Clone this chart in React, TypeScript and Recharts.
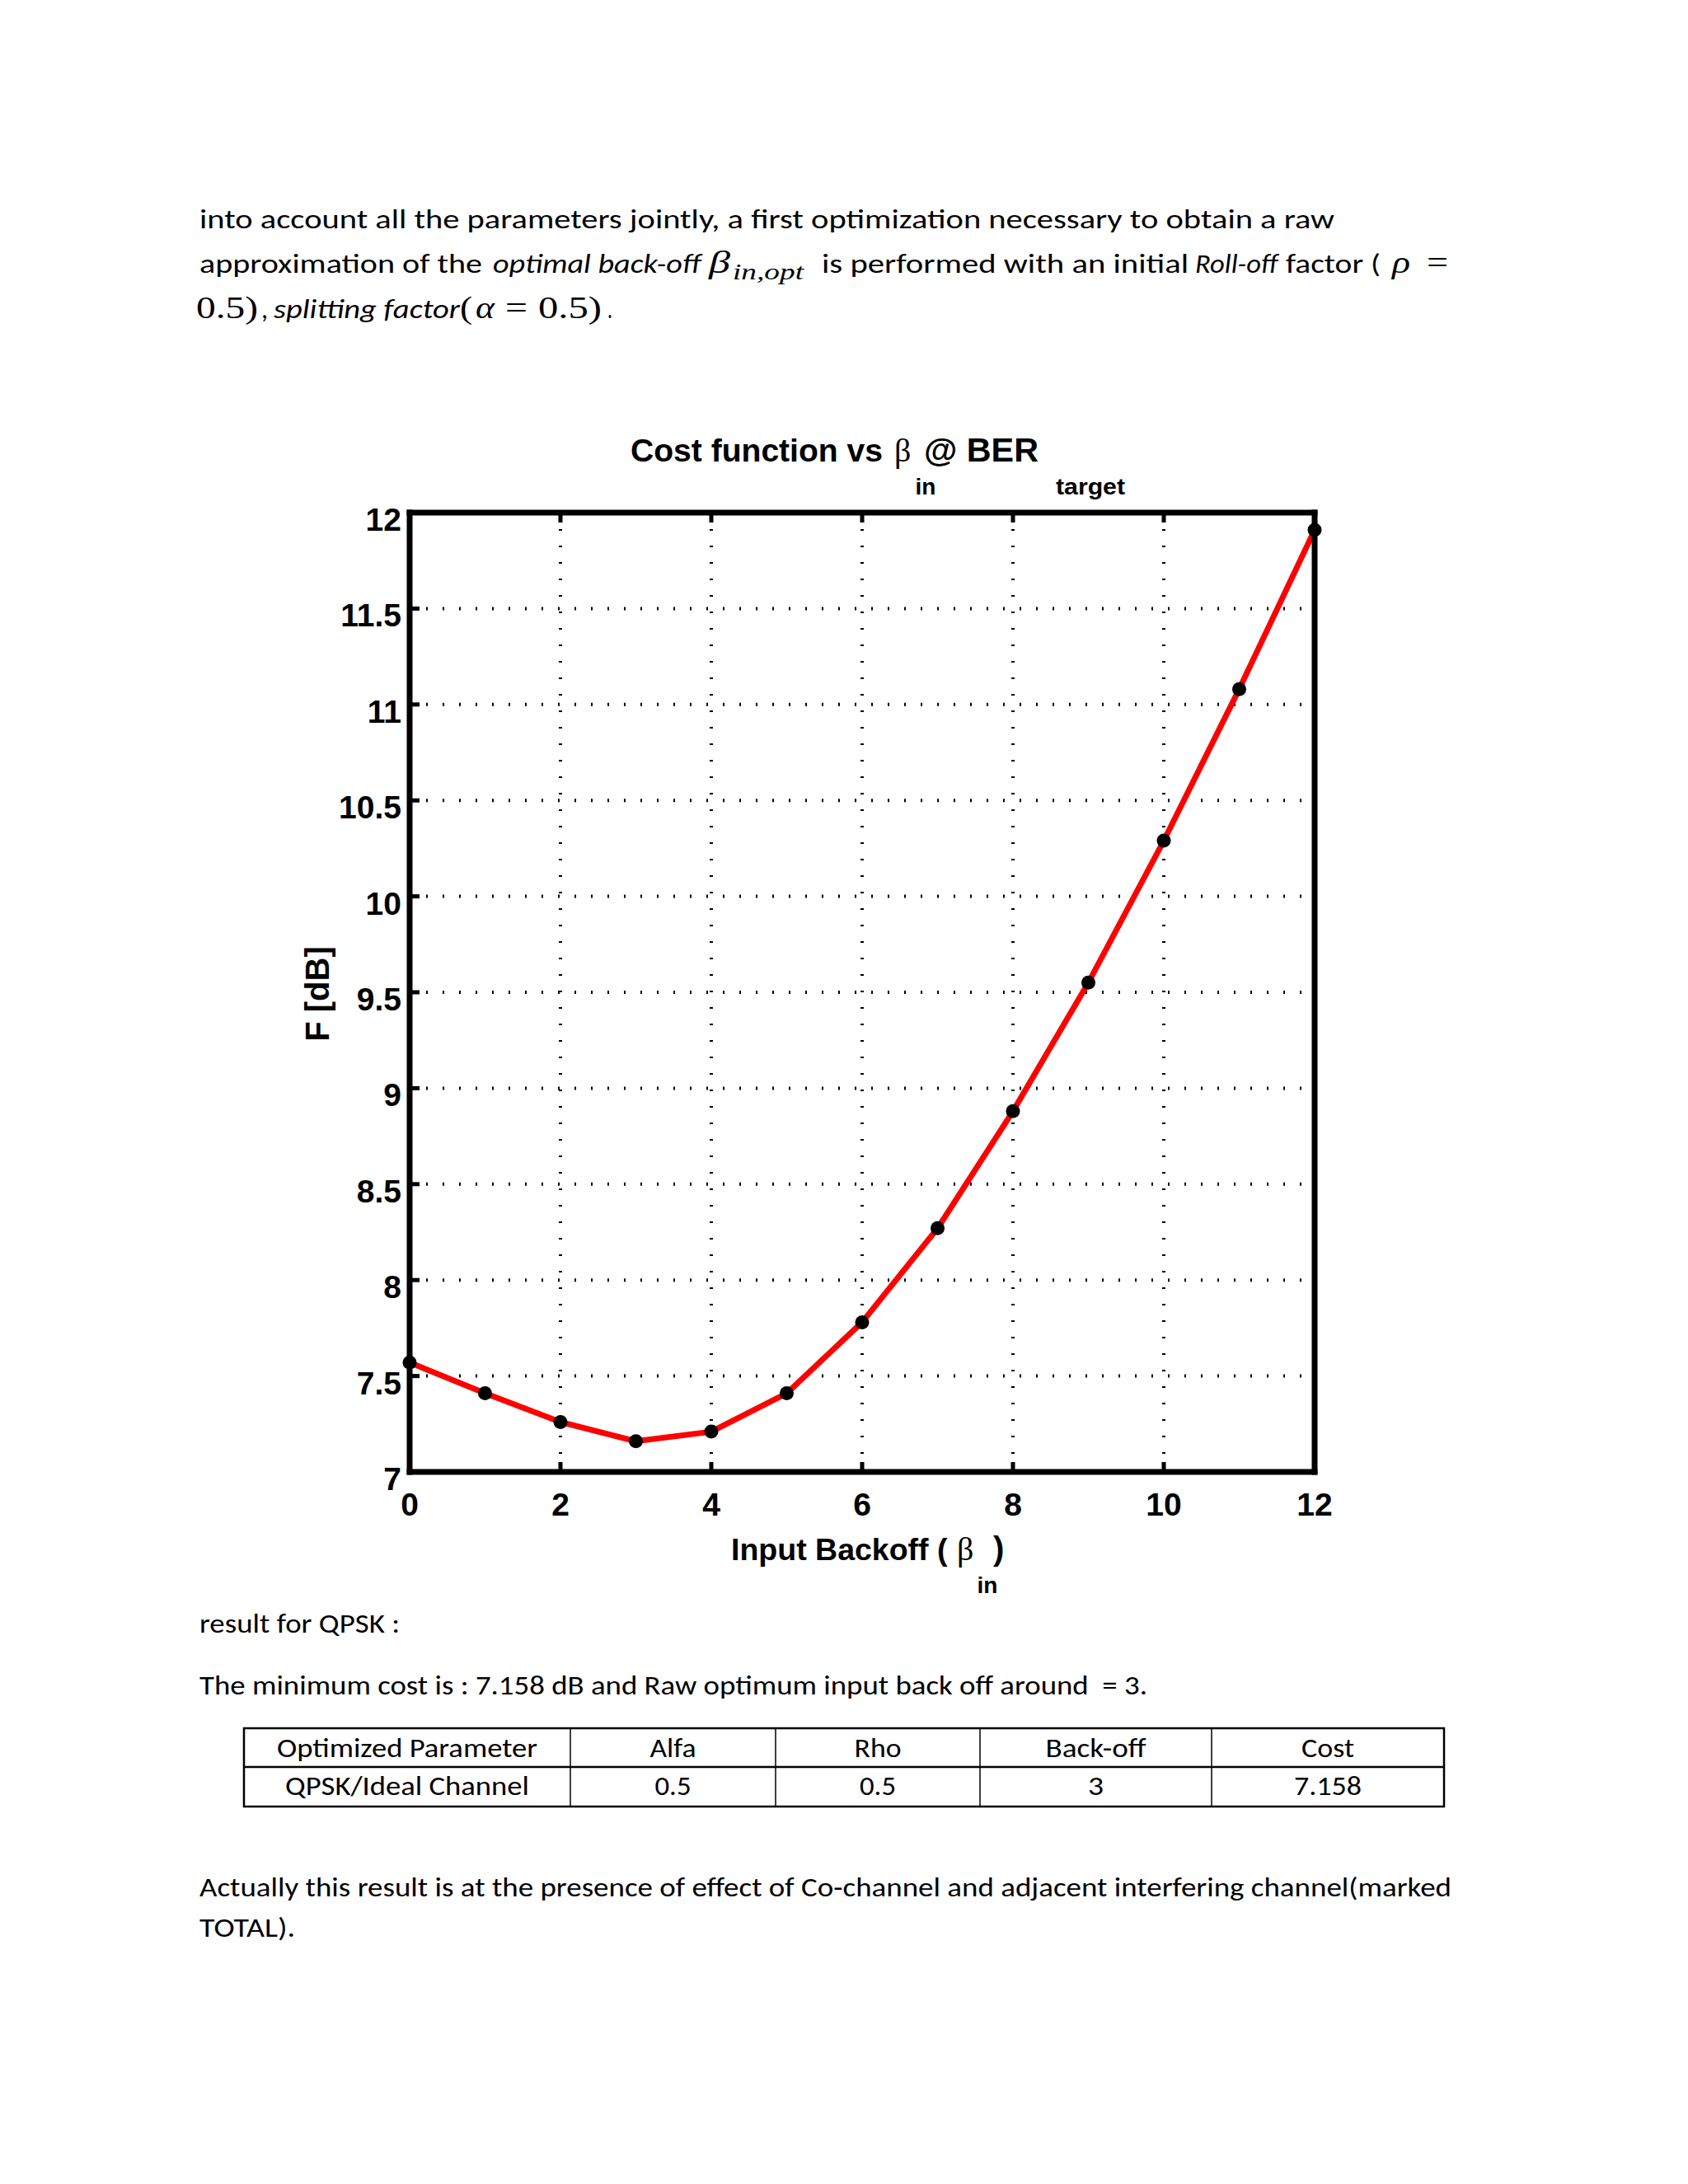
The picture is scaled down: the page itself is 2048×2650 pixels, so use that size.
import React from "react";
import { LineChart, Line, XAxis, YAxis, CartesianGrid } from "recharts";

// input backoff (beta_in) and cost F [dB]
const backoff = [0, 1, 2, 3, 4, 5, 6, 7, 8, 9, 10, 11, 12];
const cost = [7.57, 7.41, 7.26, 7.16, 7.21, 7.41, 7.78, 8.27, 8.88, 9.55, 10.29, 11.08, 11.91];
const xTicks = [0, 2, 4, 6, 8, 10, 12];
const yTicks = [7, 7.5, 8, 8.5, 9, 9.5, 10, 10.5, 11, 11.5, 12];

const tableHead = ["Optimized Parameter", "Alfa", "Rho", "Back-off", "Cost"];
const tableRow = ["QPSK/Ideal Channel", "0.5", "0.5", "3", "7.158"];

const data = backoff.map((b, i) => ({ b, cost: cost[i] }));

const AX = '"Liberation Sans", Arial, Helvetica, sans-serif';
const BODY = 'Carlito, Lato, "Open Sans", sans-serif';
const MATH = '"Liberation Serif", "DejaVu Serif", serif';

const BottomTick = (props: any) => {
  const { x, y, payload } = props;
  return (
    <g>
      <line x1={x} y1={y} x2={x} y2={y - 12} stroke="#000" strokeWidth={5} />
      <text x={x} y={y + 53} textAnchor="middle" fontFamily={AX} fontWeight="bold" fontSize={39} fill="#000">
        {payload.value}
      </text>
    </g>
  );
};

const TopTick = (props: any) => {
  const { x, y } = props;
  return <line x1={x} y1={y} x2={x} y2={y + 12} stroke="#000" strokeWidth={5} />;
};

const LeftTick = (props: any) => {
  const { x, y, payload } = props;
  return (
    <g>
      <line x1={x} y1={y} x2={x + 12} y2={y} stroke="#000" strokeWidth={5} />
      <text x={x - 10} y={y + 22} textAnchor="end" fontFamily={AX} fontWeight="bold" fontSize={39} fill="#000">
        {payload.value}
      </text>
    </g>
  );
};

const RightTick = (props: any) => {
  const { x, y } = props;
  return <line x1={x} y1={y} x2={x - 12} y2={y} stroke="#000" strokeWidth={5} />;
};

// body text run, squeezed to the measured width
const Txt = ({ x, y, w, size = 33, italic = false, family = BODY, children }: any) => (
  <text
    x={x}
    y={y}
    textLength={w}
    lengthAdjust="spacingAndGlyphs"
    fontFamily={family}
    fontStyle={italic ? "italic" : "normal"}
    fontSize={size}
    fill="#000"
    style={{ whiteSpace: "pre" }}
  >
    {children}
  </text>
);

const colEdges = [296, 692, 941, 1189, 1470, 1752];
const headW = [316, 56, 57, 122, 64];
const rowW = [296, 44, 44, 19, 82];

const axisLine = { stroke: "#000", strokeWidth: 7, strokeLinecap: "square" };

export default function App() {
  return (
    <div style={{ position: "absolute", left: 0, top: 0, width: 2048, height: 2650, background: "#fff" }}>
      <div style={{ position: "absolute", left: 0, top: 0 }}>
        <LineChart
          width={2048}
          height={2000}
          data={data}
          margin={{ top: 621, left: 417, right: 452, bottom: 154 }}
        >
          <CartesianGrid stroke="#000" strokeWidth={4} strokeDasharray="2 18" />
          <XAxis
            dataKey="b"
            type="number"
            domain={[0, 12]}
            ticks={xTicks}
            interval={0}
            height={60}
            tickSize={0}
            tickMargin={0}
            axisLine={axisLine}
            tick={BottomTick}
          />
          <XAxis
            xAxisId="top"
            orientation="top"
            type="number"
            domain={[0, 12]}
            ticks={xTicks}
            interval={0}
            height={1}
            tickSize={0}
            tickMargin={0}
            axisLine={axisLine}
            tick={TopTick}
          />
          <YAxis
            type="number"
            domain={[7, 12]}
            ticks={yTicks}
            interval={0}
            width={80}
            tickSize={0}
            tickMargin={0}
            axisLine={axisLine}
            tick={LeftTick}
          />
          <YAxis
            yAxisId="right"
            orientation="right"
            type="number"
            domain={[7, 12]}
            ticks={yTicks}
            interval={0}
            width={1}
            tickSize={0}
            tickMargin={0}
            axisLine={axisLine}
            tick={RightTick}
          />
          <Line
            type="linear"
            dataKey="cost"
            stroke="#ff0000"
            strokeWidth={7}
            dot={{ r: 8.5, fill: "#000", stroke: "#000", strokeWidth: 0 }}
            isAnimationActive={false}
          />
        </LineChart>
      </div>

      <svg width={2048} height={2650} style={{ position: "absolute", left: 0, top: 0, pointerEvents: "none" }}>
        {/* paragraph above the figure */}
        <Txt x={242} y={277} w={1377}>into account all the parameters jointly, a first optimization necessary to obtain a raw</Txt>
        <Txt x={242} y={331} w={343}>approximation of the</Txt>
        <Txt x={598} y={331} w={252} italic>optimal back-off</Txt>
        <Txt x={860} y={331} w={26} size={38} italic family={MATH}>β</Txt>
        <Txt x={889} y={339} w={86} size={28} italic family={MATH}>in,opt</Txt>
        <Txt x={997} y={331} w={445}>is performed with an initial</Txt>
        <Txt x={1450} y={331} w={100} italic>Roll-off</Txt>
        <Txt x={1560} y={331} w={115}>factor (</Txt>
        <Txt x={1689} y={331} w={22} size={38} italic family={MATH}>ρ</Txt>
        <Txt x={1731} y={331} w={26} size={38} family={MATH}>=</Txt>
        <Txt x={238} y={386} w={75} size={38} family={MATH}>0.5)</Txt>
        <Txt x={317} y={386} w={8}>,</Txt>
        <Txt x={332} y={386} w={226} italic>splitting factor</Txt>
        <Txt x={558} y={386} w={15} size={38} family={MATH}>(</Txt>
        <Txt x={577} y={386} w={23} size={38} italic family={MATH}>α</Txt>
        <Txt x={613} y={386} w={27} size={38} family={MATH}>=</Txt>
        <Txt x={653} y={386} w={77} size={38} family={MATH}>0.5)</Txt>
        <Txt x={737} y={386} w={6}>.</Txt>

        {/* figure title and axis labels */}
        <text x={765} y={560} textLength={306} lengthAdjust="spacingAndGlyphs" fontFamily={AX} fontWeight="bold" fontSize={39}>Cost function vs</text>
        <text x={1085} y={560} fontFamily={MATH} fontSize={40}>β</text>
        <text x={1121} y={560} textLength={139} lengthAdjust="spacingAndGlyphs" fontFamily={AX} fontWeight="bold" fontSize={40}>@ BER</text>
        <text x={1123} y={600} textAnchor="middle" fontFamily={AX} fontWeight="bold" fontSize={28}>in</text>
        <text x={1281} y={600} textLength={84} lengthAdjust="spacingAndGlyphs" fontFamily={AX} fontWeight="bold" fontSize={28}>target</text>

        <text x={887} y={1893} fontFamily={AX} fontWeight="bold" fontSize={37.5}>Input Backoff (</text>
        <text x={1161} y={1893} fontFamily={MATH} fontSize={40}>β</text>
        <text x={1205} y={1893} fontFamily={AX} fontWeight="bold" fontSize={40}>)</text>
        <text x={1198} y={1933} textAnchor="middle" fontFamily={AX} fontWeight="bold" fontSize={28}>in</text>

        <text transform="translate(399,1206) rotate(-90)" textAnchor="middle" fontFamily={AX} fontWeight="bold" fontSize={40}>F [dB]</text>

        {/* result text */}
        <Txt x={242} y={1981} w={243}>result for QPSK :</Txt>
        <Txt x={242} y={2056} w={1150}>The minimum cost is : 7.158 dB and Raw optimum input back off around  = 3.</Txt>

        {/* table */}
        <rect x={296} y={2097} width={1456} height={95} fill="none" stroke="#000" strokeWidth={2.5} />
        <line x1={296} y1={2144} x2={1752} y2={2144} stroke="#000" strokeWidth={2.5} />
        {colEdges.slice(1, -1).map((cx) => (
          <line key={cx} x1={cx} y1={2097} x2={cx} y2={2192} stroke="#000" strokeWidth={1.5} />
        ))}
        {tableHead.map((h, i) => (
          <Txt key={"h" + i} x={(colEdges[i] + colEdges[i + 1]) / 2 - headW[i] / 2} y={2132} w={headW[i]}>{h}</Txt>
        ))}
        {tableRow.map((c, i) => (
          <Txt key={"r" + i} x={(colEdges[i] + colEdges[i + 1]) / 2 - rowW[i] / 2} y={2178} w={rowW[i]}>{c}</Txt>
        ))}

        <Txt x={242} y={2301} w={1519}>Actually this result is at the presence of effect of Co-channel and adjacent interfering channel(marked</Txt>
        <Txt x={242} y={2350} w={116}>TOTAL).</Txt>
      </svg>
    </div>
  );
}
